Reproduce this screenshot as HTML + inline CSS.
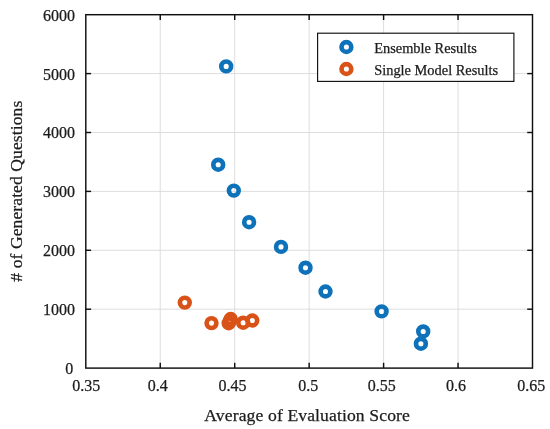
<!DOCTYPE html>
<html lang="en"><head><meta charset="utf-8"><title>Scatter plot</title>
<style>
html,body{margin:0;padding:0;background:#fff;}
body{width:550px;height:429px;overflow:hidden;}
svg{display:block;}
text{font-family:"Liberation Serif","Times New Roman",serif;fill:#1c1c1c;stroke:#1c1c1c;stroke-width:0.25px;}
.t{font-size:16px;}
.l{font-size:17.6px;}
.g{font-size:14.4px;}
</style></head><body>
<svg width="550" height="429" viewBox="0 0 550 429">
<rect x="0" y="0" width="550" height="429" fill="#ffffff"/>
<g stroke="#d9d9d9" stroke-width="0.9" fill="none">
<line x1="160.25" y1="14.7" x2="160.25" y2="368.1"/>
<line x1="234.70" y1="14.7" x2="234.70" y2="368.1"/>
<line x1="309.15" y1="14.7" x2="309.15" y2="368.1"/>
<line x1="383.60" y1="14.7" x2="383.60" y2="368.1"/>
<line x1="458.05" y1="14.7" x2="458.05" y2="368.1"/>
<line x1="85.8" y1="309.20" x2="532.5" y2="309.20"/>
<line x1="85.8" y1="250.30" x2="532.5" y2="250.30"/>
<line x1="85.8" y1="191.40" x2="532.5" y2="191.40"/>
<line x1="85.8" y1="132.50" x2="532.5" y2="132.50"/>
<line x1="85.8" y1="73.60" x2="532.5" y2="73.60"/>
</g>
<g fill="none" stroke="#0E72BA" stroke-width="4.65">
<circle cx="226.2" cy="66.4" r="4.88"/>
<circle cx="218.2" cy="164.7" r="4.88"/>
<circle cx="233.8" cy="190.6" r="4.88"/>
<circle cx="249.1" cy="222.2" r="4.88"/>
<circle cx="281.0" cy="246.9" r="4.88"/>
<circle cx="305.5" cy="267.7" r="4.88"/>
<circle cx="325.5" cy="291.5" r="4.88"/>
<circle cx="381.6" cy="311.4" r="4.88"/>
<circle cx="423.2" cy="331.45" r="4.88"/>
<circle cx="420.9" cy="343.7" r="4.88"/>
</g>
<g fill="none" stroke="#D95319" stroke-width="4.65">
<circle cx="184.8" cy="302.6" r="4.88"/>
<circle cx="211.5" cy="323.1" r="4.88"/>
<circle cx="228.7" cy="323.25" r="4.88"/>
<circle cx="229.7" cy="321.15" r="4.88"/>
<circle cx="230.7" cy="319.05" r="4.88"/>
<circle cx="243.2" cy="322.7" r="4.88"/>
<circle cx="252.3" cy="320.5" r="4.88"/>
</g>
<g stroke="#101010" stroke-width="1.45" fill="none" stroke-linecap="butt">
<rect x="85.8" y="14.7" width="446.70" height="353.40"/>
<line x1="160.25" y1="368.1" x2="160.25" y2="362.8"/>
<line x1="160.25" y1="14.7" x2="160.25" y2="20.0"/>
<line x1="234.70" y1="368.1" x2="234.70" y2="362.8"/>
<line x1="234.70" y1="14.7" x2="234.70" y2="20.0"/>
<line x1="309.15" y1="368.1" x2="309.15" y2="362.8"/>
<line x1="309.15" y1="14.7" x2="309.15" y2="20.0"/>
<line x1="383.60" y1="368.1" x2="383.60" y2="362.8"/>
<line x1="383.60" y1="14.7" x2="383.60" y2="20.0"/>
<line x1="458.05" y1="368.1" x2="458.05" y2="362.8"/>
<line x1="458.05" y1="14.7" x2="458.05" y2="20.0"/>
<line x1="85.8" y1="309.20" x2="91.1" y2="309.20"/>
<line x1="532.5" y1="309.20" x2="527.2" y2="309.20"/>
<line x1="85.8" y1="250.30" x2="91.1" y2="250.30"/>
<line x1="532.5" y1="250.30" x2="527.2" y2="250.30"/>
<line x1="85.8" y1="191.40" x2="91.1" y2="191.40"/>
<line x1="532.5" y1="191.40" x2="527.2" y2="191.40"/>
<line x1="85.8" y1="132.50" x2="91.1" y2="132.50"/>
<line x1="532.5" y1="132.50" x2="527.2" y2="132.50"/>
<line x1="85.8" y1="73.60" x2="91.1" y2="73.60"/>
<line x1="532.5" y1="73.60" x2="527.2" y2="73.60"/>
</g>
<text class="t" x="72.35" y="391.3">0.35</text>
<text class="t" x="147.65" y="391.3">0.4</text>
<text class="t" x="218.45" y="391.3">0.45</text>
<text class="t" x="298.15" y="391.3">0.5</text>
<text class="t" x="367.65" y="391.3">0.55</text>
<text class="t" x="446.05" y="391.3">0.6</text>
<text class="t" x="517.35" y="391.3">0.65</text>
<text class="t" x="73.3" y="373.80" text-anchor="end">0</text>
<text class="t" x="75.0" y="315.10" text-anchor="end">1000</text>
<text class="t" x="75.0" y="256.20" text-anchor="end">2000</text>
<text class="t" x="75.0" y="197.30" text-anchor="end">3000</text>
<text class="t" x="75.0" y="138.40" text-anchor="end">4000</text>
<text class="t" x="75.0" y="79.50" text-anchor="end">5000</text>
<text class="t" x="75.0" y="20.60" text-anchor="end">6000</text>
<text class="l" x="307.1" y="420.5" text-anchor="middle" textLength="205.5" lengthAdjust="spacing">Average of Evaluation Score</text>
<text class="l" transform="translate(21.8,191.2) rotate(-90)" text-anchor="middle" textLength="181" lengthAdjust="spacing"># of Generated Questions</text>
<rect x="317.6" y="33.2" width="196.3" height="48.2" fill="#ffffff" stroke="#101010" stroke-width="1.15"/>
<circle cx="346.4" cy="47.0" r="4.88" fill="none" stroke="#0E72BA" stroke-width="4.65"/>
<circle cx="346.4" cy="69.0" r="4.88" fill="none" stroke="#D95319" stroke-width="4.65"/>
<text class="g" x="374.2" y="53.3">Ensemble Results</text>
<text class="g" x="374.2" y="74.8">Single Model Results</text>
</svg></body></html>
